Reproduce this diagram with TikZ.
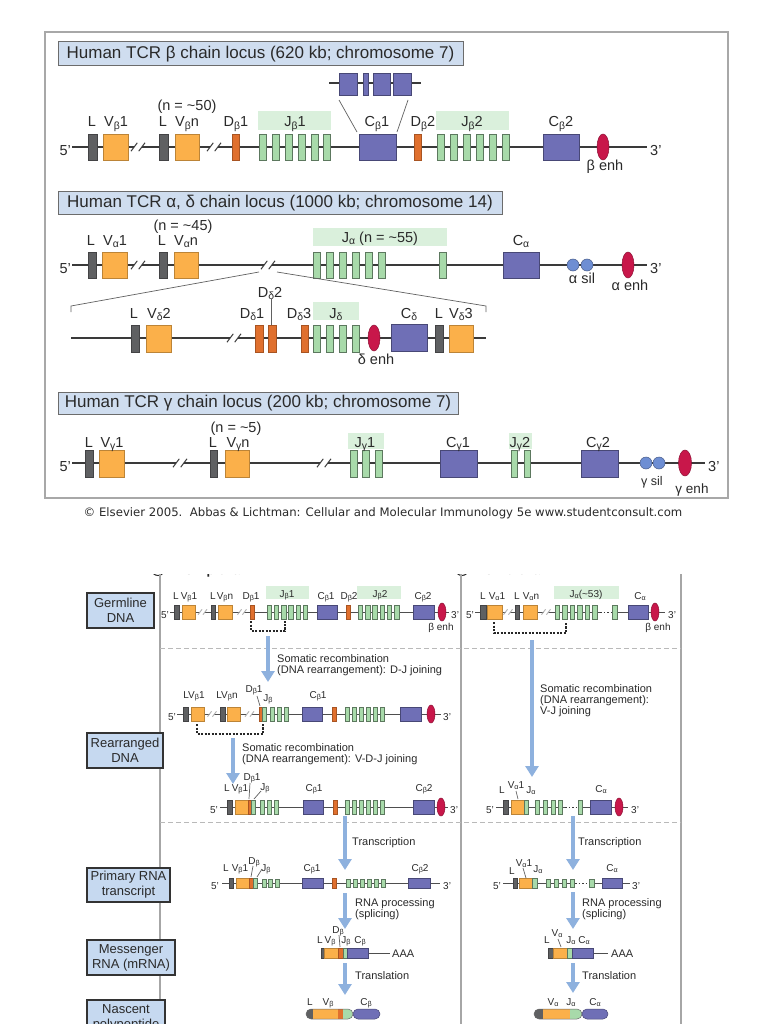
\documentclass[tikz,border=0pt]{standalone}
\usepackage{fontspec}
\setmainfont{Liberation Sans}
\newfontfamily\capfont{DejaVu Sans}
\usetikzlibrary{arrows.meta}
\definecolor{Lg}{HTML}{5F6062}
\definecolor{Vo}{HTML}{FBB04A}
\definecolor{Do}{HTML}{E0702E}
\definecolor{Jg}{HTML}{A8DAAA}
\definecolor{Jbgc}{HTML}{DAF0DC}
\definecolor{Cp}{HTML}{6F6FB6}
\definecolor{Enh}{HTML}{C8174A}
\definecolor{Sil}{HTML}{6E8ED3}
\definecolor{Tbox}{HTML}{CFDDEF}
\definecolor{Arr}{HTML}{8EB1DE}
\definecolor{Lbox}{HTML}{C6D9F0}
\definecolor{Dl}{HTML}{3A3A3A}
\definecolor{Frame}{HTML}{A8A8A8}
\definecolor{Txt}{HTML}{2A2A2A}
\newcommand\fs[1]{\fontsize{#1}{#1}\selectfont}
\newcommand\sbx[1]{\raisebox{-0.3ex}{\scalebox{0.72}{#1}}}
\newcommand\bx[5]{\draw[#1] (#2,#3) rectangle (#4,#5);}
\newcounter{nn}
\newcommand\lab[4][lab]{\stepcounter{nn}\node[#1] (n\arabic{nn}) at (#2,#3) {#4};}
% break mark: x, y, size, style
\newcommand\brk[4]{%
  \fill[white] (#1-#3*0.55,#2-2) rectangle (#1+#3*0.55,#2+2);
  \draw[#4] (#1-#3,#2+#3*0.6) -- (#1-#3*0.1,#2-#3*0.6) (#1+#3*0.1,#2+#3*0.6) -- (#1+#3,#2-#3*0.6);}
\begin{document}
\begin{tikzpicture}[x=1pt,y=-1pt,
  dna/.style={draw=Dl, line width=1.3pt},
  dnas/.style={draw=Dl!90, line width=1pt},
  Lseg/.style={fill=Lg, draw=Lg!70!black, line width=0.5pt},
  Vseg/.style={fill=Vo, draw=Vo!75!black, line width=0.5pt},
  Dseg/.style={fill=Do, draw=Do!75!black, line width=0.5pt},
  Jseg/.style={fill=Jg, draw=Jg!55!black, line width=0.5pt},
  Cseg/.style={fill=Cp, draw=Cp!65!black, line width=0.5pt},
  Jbg/.style={fill=Jbgc, draw=none},
  enh/.style={fill=Enh, draw=Enh!70!black, line width=0.5pt},
  sil/.style={fill=Sil, draw=Sil!65!black, line width=0.5pt},
  brkA/.style={draw=Dl, line width=1pt},
  brkB/.style={draw=gray!60, line width=0.9pt},
  thinl/.style={draw=Dl!80, line width=0.7pt},
  lab/.style={font=\fs{14.5}, text=Txt, inner sep=0pt, anchor=base},
  slab/.style={font=\fs{10}, text=Txt, inner sep=0pt, anchor=base},
  txt/.style={font=\fs{11}, text=Txt, inner sep=0pt, anchor=base west},
  tbox/.style={draw=gray!85!black, fill=Tbox, line width=1pt, font=\fs{17}, text=Txt, inner sep=0pt},
  lbox/.style={draw=black!80, fill=Lbox, line width=1.3pt, font=\fs{13}, text=Txt, align=center, inner sep=0pt},
  bigarrow/.style={draw=Arr, line width=4.5pt, -{Triangle[length=11pt,width=13pt]}},
  brack/.style={draw=black!85, line width=1.1pt, dash pattern=on 2.2pt off 1.3pt},
  dotl/.style={draw=Dl, line width=1pt, dash pattern=on 1.5pt off 2pt},
  sep/.style={draw=gray!70, line width=1.2pt},
  hsep/.style={draw=gray!55, line width=1pt, dash pattern=on 5pt off 3pt},
  outl/.style={draw=black!60, line width=0.5pt}
]
\useasboundingbox (0,0) rectangle (768,1024);
\clip (0,0) rectangle (768,1024);
\fill[white] (0,0) rectangle (768,1024);

% ================= TOP PANEL =================
\draw[Frame, line width=2pt] (45,32) rectangle (728,498);

% ---- beta locus ----
\node[tbox, minimum width=405pt, minimum height=24pt] (tb) at (260.5,54) {Human TCR β chain locus (620 kb; chromosome 7)};
\draw[dna] (72,147) -- (647,147);
\bx{Lseg}{88}{134}{97}{160}
\bx{Vseg}{103}{134}{128}{160}
\brk{138}{147}{7}{brkA}
\bx{Lseg}{159}{134}{168}{160}
\bx{Vseg}{175}{134}{199}{160}
\brk{214}{147}{7}{brkA}
\bx{Dseg}{232}{134}{239}{160}
\bx{Jbg}{258}{111}{331}{130}
\foreach \x in {259,272,285,298,311,323} {\bx{Jseg}{\x}{134}{\x+7}{160}}
\bx{Cseg}{359}{134}{396}{160}
\bx{Dseg}{414}{134}{421}{160}
\bx{Jbg}{436}{111}{509}{130}
\foreach \x in {437,450,463,476,489,502} {\bx{Jseg}{\x}{134}{\x+7}{160}}
\bx{Cseg}{543}{134}{579}{160}
\draw[enh] (603,147) ellipse [x radius=6pt, y radius=13pt];
% inset of C beta 1
\draw[dna] (329,83) -- (421,83);
\bx{Cseg}{339}{73}{357}{95}
\bx{Cseg}{363}{73}{368}{95}
\bx{Cseg}{373}{73}{390}{95}
\bx{Cseg}{393}{73}{411}{95}
\draw[thinl] (339,100) -- (357,132);
\draw[thinl] (408,100) -- (397,132);
% labels
\node[lab, anchor=east] (b5) at (71,151) {5'};
\node[lab, anchor=west] (b3) at (650,151) {3'};
\lab{92}{127}{L}
\lab{116}{127}{V\sbx{β}1}
\lab{187}{111}{(n = \textasciitilde50)}
\lab{163}{127}{L}
\lab{187}{127}{V\sbx{β}n}
\lab{236}{127}{D\sbx{β}1}
\lab{295}{127}{J\sbx{β}1}
\lab{377}{127}{C\sbx{β}1}
\lab{423}{127}{D\sbx{β}2}
\lab{472}{127}{J\sbx{β}2}
\lab{561}{127}{C\sbx{β}2}
\lab{605}{171}{β enh}

% ---- alpha/delta locus ----
\node[tbox, minimum width=444pt, minimum height=23pt] (ta) at (280,203.5) {Human TCR α, δ chain locus (1000 kb; chromosome 14)};
\draw[dna] (72,265) -- (647,265);
\bx{Lseg}{88}{252}{96}{278}
\bx{Vseg}{102}{252}{127}{278}
\brk{138}{265}{7}{brkA}
\bx{Lseg}{159}{252}{167}{278}
\bx{Vseg}{174}{252}{198}{278}
\brk{268}{265}{7}{brkA}
\bx{Jbg}{313}{228}{447}{246}
\foreach \x in {313,326,339,352,365,378} {\bx{Jseg}{\x}{252}{\x+7}{278}}
\bx{Jseg}{439}{252}{446}{278}
\bx{Cseg}{503}{252}{539}{278}
\draw[sil] (573,265) circle [radius=6pt];
\draw[sil] (587,265) circle [radius=6pt];
\draw[enh] (628,265) ellipse [x radius=6pt, y radius=13pt];
\node[lab, anchor=east] (a5) at (71,269) {5'};
\node[lab, anchor=west] (a3) at (650,269) {3'};
\lab{91}{245}{L}
\lab{115}{245}{V\sbx{α}1}
\lab{183}{230}{(n = \textasciitilde45)}
\lab{162}{245}{L}
\lab{186}{245}{V\sbx{α}n}
\lab{380}{242}{J\sbx{α} (n = \textasciitilde55)}
\lab{521}{245}{C\sbx{α}}
\lab{582}{283}{α sil}
\lab{630}{290}{α enh}
% expansion lines
\draw[thinl] (259,272) -- (71,306) -- (71,312);
\draw[thinl] (277,272) -- (486,306) -- (486,312);
% delta region
\draw[dna] (71,338) -- (486,338);
\bx{Lseg}{131}{325}{139}{352}
\bx{Vseg}{146}{325}{171}{352}
\brk{234}{338}{7}{brkA}
\bx{Dseg}{255}{325}{263}{352}
\bx{Dseg}{268}{325}{276}{352}
\bx{Dseg}{301}{325}{308}{352}
\bx{Jbg}{313}{302}{359}{320}
\foreach \x in {313,326,339,352} {\bx{Jseg}{\x}{325}{\x+7}{352}}
\draw[enh] (374,338) ellipse [x radius=6pt, y radius=13pt];
\bx{Cseg}{391}{324}{427}{351}
\bx{Lseg}{435}{325}{443}{352}
\bx{Vseg}{449}{325}{473}{352}
\draw[thinl] (271,299) -- (271,325);
\lab{134}{318}{L}
\lab{159}{318}{V\sbx{δ}2}
\lab{252}{318}{D\sbx{δ}1}
\lab{270}{297}{D\sbx{δ}2}
\lab{299}{318}{D\sbx{δ}3}
\lab{336}{318}{J\sbx{δ}}
\lab{409}{318}{C\sbx{δ}}
\lab{439}{318}{L}
\lab{461}{318}{V\sbx{δ}3}
\lab{376}{364}{δ enh}

% ---- gamma locus ----
\node[tbox, minimum width=400pt, minimum height=22pt] (tg) at (258,403) {Human TCR γ chain locus (200 kb; chromosome 7)};
\draw[dna] (72,463) -- (705,463);
\bx{Lseg}{85}{450}{93}{477}
\bx{Vseg}{99}{450}{124}{477}
\brk{180}{463}{7}{brkA}
\bx{Lseg}{210}{450}{217}{477}
\bx{Vseg}{225}{450}{249}{477}
\brk{324}{463}{7}{brkA}
\bx{Jbg}{348}{433}{384}{449}
\foreach \x in {350,362,375} {\bx{Jseg}{\x}{450}{\x+7}{477}}
\bx{Cseg}{440}{450}{477}{477}
\bx{Jbg}{509}{433}{532}{449}
\foreach \x in {511,524} {\bx{Jseg}{\x}{450}{\x+6}{477}}
\bx{Cseg}{581}{450}{618}{477}
\draw[sil] (646,463) circle [radius=6pt];
\draw[sil] (659,463) circle [radius=6pt];
\draw[enh] (685,463) ellipse [x radius=6.5pt, y radius=13pt];
\node[lab, anchor=east] (g5) at (71,467) {5'};
\node[lab, anchor=west] (g3) at (708,467) {3'};
\lab{89}{447}{L}
\lab{112}{447}{V\sbx{γ}1}
\lab{236}{432}{(n = \textasciitilde5)}
\lab{213}{447}{L}
\lab{238}{447}{V\sbx{γ}n}
\lab{365}{447}{J\sbx{γ}1}
\lab{458}{447}{C\sbx{γ}1}
\lab{520}{447}{J\sbx{γ}2}
\lab{598}{447}{C\sbx{γ}2}
\lab[lab, font=\fs{12.5}]{652}{485}{γ sil}
\lab[lab, font=\fs{13.5}]{692}{493}{γ enh}

% caption
\node[font=\capfont\fs{11.7}, text=Txt, inner sep=0pt, anchor=base] (cap) at (383,516) {© Elsevier 2005.\ \ Abbas \& Lichtman: Cellular and Molecular Immunology 5e www.studentconsult.com};

% ================= LOWER PANEL =================
\begin{scope}
\clip (0,574) rectangle (768,1024);
\draw[Txt, line width=1pt] (158,569) circle [radius=6.5pt];
\draw[Txt, line width=1pt] (462,569) circle [radius=6.5pt];
\node[font=\bfseries\fs{13}, text=Txt, inner sep=0pt, anchor=base west] (hb) at (176,574) {TCR β chain};
\node[font=\bfseries\fs{13}, text=Txt, inner sep=0pt, anchor=base west] (ha) at (476,574) {TCR α chain};
\end{scope}
\draw[sep] (160,574) -- (160,1024);
\draw[sep] (461,574) -- (461,1024);
\draw[sep] (681,574) -- (681,1024);
\draw[hsep] (160,648) -- (681,648);
\draw[hsep] (160,822) -- (681,822);

% left stage labels
\node[lbox, minimum width=67pt, minimum height=35pt] (germ) at (120.5,610.5) {Germline\\[2pt]DNA};
\node[lbox, minimum width=76pt, minimum height=35pt] (rearr) at (125,750.5) {Rearranged\\[2pt]DNA};
\node[lbox, minimum width=83pt, minimum height=34pt] (prim) at (128.5,885) {Primary RNA\\[2pt]transcript};
\node[lbox, minimum width=88pt, minimum height=35pt] (mrna) at (131,957.5) {Messenger\\[2pt]RNA (mRNA)};
\node[lbox, minimum width=78pt, minimum height=35pt] (nasc) at (126,1017.5) {Nascent\\[2pt]polypeptide};

% ---------- beta column ----------
% row 1 germline
\draw[dnas] (170,612) -- (449,612);
\bx{Lseg}{174}{605}{179}{619}
\bx{Vseg}{182}{605}{195}{619}
\brk{202.5}{612}{4.5}{brkB}
\bx{Lseg}{211}{605}{215}{619}
\bx{Vseg}{218}{605}{232}{619}
\brk{242}{612}{4.5}{brkB}
\bx{Dseg}{250}{605}{254}{619}
\bx{Jbg}{266}{586}{309}{599}
\foreach \x in {267,274.2,281.4,288.6,295.8,303} {\bx{Jseg}{\x}{605}{\x+4.5}{619}}
\bx{Cseg}{317}{605}{337}{619}
\bx{Dseg}{346}{605}{350}{619}
\bx{Jbg}{357}{586}{401}{599}
\foreach \x in {358,365.3,372.6,379.9,387.2,394.5} {\bx{Jseg}{\x}{605}{\x+4.5}{619}}
\bx{Cseg}{413}{605}{434}{619}
\draw[enh] (442,612) ellipse [x radius=4pt, y radius=9pt];
\node[slab, anchor=east] (r1b5) at (169,615) {5'};
\node[slab, anchor=west] (r1b3) at (451,615) {3'};
\lab[slab]{176}{599}{L}
\lab[slab]{189}{599}{V\sbx{β}1}
\lab[slab]{213}{599}{L}
\lab[slab]{225}{599}{V\sbx{β}n}
\lab[slab]{251}{599}{D\sbx{β}1}
\lab[slab]{287}{597}{J\sbx{β}1}
\lab[slab]{326}{599}{C\sbx{β}1}
\lab[slab]{349}{599}{D\sbx{β}2}
\lab[slab]{380}{597}{J\sbx{β}2}
\lab[slab]{423}{599}{C\sbx{β}2}
\lab[slab]{441}{630}{β enh}
\draw[brack] (251,621) -- (251,631) -- (285,631) -- (285,621);
% arrow D-J
\coordinate (b1s) at (268,636);
\coordinate (b1e) at (268,682);
\draw[bigarrow] (b1s) -- (b1e);
\node[txt] (t1) at (277,662) {Somatic recombination};
\node[txt] (t2) at (277,673) {(DNA rearrangement): D-J joining};

% row 2
\draw[dnas] (177,714) -- (441,714);
\bx{Lseg}{183}{707}{188}{721}
\bx{Vseg}{191}{707}{204}{721}
\brk{212}{714}{4.5}{brkB}
\bx{Lseg}{220}{707}{225}{721}
\bx{Vseg}{227}{707}{240}{721}
\brk{249.5}{714}{4.5}{brkB}
\bx{Dseg}{259}{707}{262.5}{721}
\bx{Jseg}{262.5}{707}{266.5}{721}
\foreach \x in {270,277,284} {\bx{Jseg}{\x}{707}{\x+4.5}{721}}
\bx{Cseg}{302}{707}{322}{721}
\bx{Dseg}{332}{707}{336}{721}
\foreach \x in {345,352,359,366,373,380} {\bx{Jseg}{\x}{707}{\x+4.5}{721}}
\bx{Cseg}{400}{707}{421}{721}
\draw[enh] (431,714) ellipse [x radius=4pt, y radius=9pt];
\node[slab, anchor=east] (r2b5) at (176,717) {5'};
\node[slab, anchor=west] (r2b3) at (443,717) {3'};
\lab[slab]{194}{698}{LV\sbx{β}1}
\lab[slab]{227}{698}{LV\sbx{β}n}
\lab[slab]{254}{692}{D\sbx{β}1}
\lab[slab]{268}{701}{J\sbx{β}}
\lab[slab]{318}{698}{C\sbx{β}1}
\draw[thinl] (257,696) -- (260,706);
\draw[brack] (197,724) -- (197,734) -- (263,734) -- (263,724);
% arrow V-D-J
\coordinate (b2s) at (233,738);
\coordinate (b2e) at (233,784);
\draw[bigarrow] (b2s) -- (b2e);
\node[txt] (t3) at (242,751) {Somatic recombination};
\node[txt] (t4) at (242,762) {(DNA rearrangement): V-D-J joining};

% row 3
\draw[dnas] (220,807) -- (448,807);
\bx{Lseg}{227}{800}{232}{814}
\bx{Vseg}{235}{800}{248}{814}
\bx{Dseg}{248}{800}{251.5}{814}
\bx{Jseg}{251.5}{800}{255.5}{814}
\foreach \x in {260,267,274} {\bx{Jseg}{\x}{800}{\x+4.5}{814}}
\bx{Cseg}{303}{800}{323}{814}
\bx{Dseg}{333}{800}{337}{814}
\foreach \x in {345,352,359,366,373,380} {\bx{Jseg}{\x}{800}{\x+4.5}{814}}
\bx{Cseg}{413}{800}{434}{814}
\draw[enh] (441,807) ellipse [x radius=4pt, y radius=9pt];
\node[slab, anchor=east] (r3b5) at (218,810) {5'};
\node[slab, anchor=west] (r3b3) at (450,810) {3'};
\lab[slab]{227}{791}{L}
\lab[slab]{240}{791}{V\sbx{β}1}
\lab[slab]{252}{780}{D\sbx{β}1}
\lab[slab]{265}{790}{J\sbx{β}}
\lab[slab]{314}{791}{C\sbx{β}1}
\lab[slab]{424}{791}{C\sbx{β}2}
\draw[thinl] (250,783) -- (249,799);
\draw[thinl] (261,791) -- (254,799);
% transcription
\coordinate (b3s) at (345,816);
\coordinate (b3e) at (345,870);
\draw[bigarrow] (b3s) -- (b3e);
\node[txt] (t5) at (352,845) {Transcription};

% row 4 primary transcript
\draw[dnas] (222,883) -- (440,883);
\bx{Lseg}{229}{878}{233}{888}
\bx{Vseg}{236}{878}{249}{888}
\bx{Dseg}{249}{878}{253}{888}
\bx{Jseg}{253}{878}{257}{888}
\foreach \x in {262,268.5,275} {\bx{Jseg}{\x}{879}{\x+4}{887}}
\bx{Cseg}{302}{878}{323}{888}
\bx{Dseg}{332}{878}{336}{888}
\foreach \x in {346,353,360,367,374,381} {\bx{Jseg}{\x}{879}{\x+4}{887}}
\bx{Cseg}{408}{878}{430}{888}
\node[slab, anchor=east] (r4b5) at (219,886) {5'};
\node[slab, anchor=west] (r4b3) at (443,886) {3'};
\lab[slab]{226}{871}{L}
\lab[slab]{240}{871}{V\sbx{β}1}
\lab[slab]{254}{864}{D\sbx{β}}
\lab[slab]{266}{871}{J\sbx{β}}
\lab[slab]{312}{871}{C\sbx{β}1}
\lab[slab]{420}{871}{C\sbx{β}2}
\draw[thinl] (253,866) -- (251,877);
\draw[thinl] (262,869) -- (257,877);
% RNA processing
\coordinate (b4s) at (345,893);
\coordinate (b4e) at (345,929);
\draw[bigarrow] (b4s) -- (b4e);
\node[txt] (t6) at (355,906) {RNA processing};
\node[txt] (t7) at (355,917) {(splicing)};

% row 5 mRNA
\draw[dnas] (368,953) -- (390,953);
\bx{Lseg}{321}{948}{324}{958}
\bx{Vseg}{324}{948}{338}{958}
\bx{Dseg}{338}{948}{343}{958}
\bx{Jseg}{343}{948}{347}{958}
\bx{Cseg}{347}{948}{368}{958}
\node[txt] (aaa1) at (392,957) {AAA};
\lab[slab]{320}{943}{L}
\lab[slab]{330}{943}{V\sbx{β}}
\lab[slab]{338}{933}{D\sbx{β}}
\lab[slab]{346}{943}{J\sbx{β}}
\lab[slab]{360}{943}{C\sbx{β}}
\draw[thinl] (339,935) -- (340,947);
% translation
\coordinate (b5s) at (345,963);
\coordinate (b5e) at (345,995);
\draw[bigarrow] (b5s) -- (b5e);
\node[txt] (t8) at (355,979) {Translation};

% row 6 polypeptide
\begin{scope}
\clip[rounded corners=5pt] (306,1009) rectangle (353,1019);
\fill[Lg] (306,1009) rectangle (313,1019);
\fill[Vo] (313,1009) rectangle (338,1019);
\fill[Do] (338,1009) rectangle (343,1019);
\fill[Jg] (343,1009) rectangle (353,1019);
\end{scope}
\draw[outl, rounded corners=5pt] (306,1009) rectangle (353,1019);
\draw[Cseg, rounded corners=5pt] (353,1009) rectangle (380,1019);
\lab[slab]{310}{1005}{L}
\lab[slab]{328}{1005}{V\sbx{β}}
\lab[slab]{366}{1005}{C\sbx{β}}

% ---------- alpha column ----------
% row 1
\draw[dnas] (475,612) -- (600,612);
\draw[dotl] (600,612) -- (612,612);
\draw[dnas] (612,612) -- (665,612);
\bx{Lseg}{480}{605}{486}{619}
\bx{Vseg}{487}{605}{502}{619}
\brk{508}{612}{4.5}{brkB}
\bx{Lseg}{515}{605}{519}{619}
\bx{Vseg}{523}{605}{537}{619}
\brk{546}{612}{4.5}{brkB}
\bx{Jbg}{554}{586}{619}{599}
\foreach \x in {555,562.5,570,577.5,585,592.5} {\bx{Jseg}{\x}{605}{\x+4.5}{619}}
\bx{Jseg}{612}{605}{617}{619}
\bx{Cseg}{628}{605}{648}{619}
\draw[enh] (655,612) ellipse [x radius=4pt, y radius=9pt];
\node[slab, anchor=east] (r1a5) at (474,615) {5'};
\node[slab, anchor=west] (r1a3) at (668,615) {3'};
\lab[slab]{483}{599}{L}
\lab[slab]{497}{599}{V\sbx{α}1}
\lab[slab]{517}{599}{L}
\lab[slab]{531}{599}{V\sbx{α}n}
\lab[slab]{586}{597}{J\sbx{α}(\textasciitilde53)}
\lab[slab]{640}{599}{C\sbx{α}}
\lab[slab]{658}{630}{β enh}
\draw[brack] (494,622) -- (494,633) -- (566,633) -- (566,622);
% arrow V-J
\coordinate (a1s) at (532,640);
\coordinate (a1e) at (532,777);
\draw[bigarrow] (a1s) -- (a1e);
\node[txt] (t9) at (540,692) {Somatic recombination};
\node[txt] (t10) at (540,703) {(DNA rearrangement):};
\node[txt] (t11) at (540,714) {V-J joining};

% row 3
\draw[dnas] (496,807) -- (565,807);
\draw[dotl] (565,807) -- (578,807);
\draw[dnas] (578,807) -- (628,807);
\bx{Lseg}{503}{800}{508}{814}
\bx{Vseg}{511}{800}{524}{814}
\bx{Jseg}{524}{800}{528}{814}
\foreach \x in {535,543,551,558} {\bx{Jseg}{\x}{800}{\x+4}{814}}
\bx{Jseg}{578}{800}{582}{814}
\bx{Cseg}{590}{800}{611}{814}
\draw[enh] (619,807) ellipse [x radius=4pt, y radius=9pt];
\node[slab, anchor=east] (r3a5) at (494,810) {5'};
\node[slab, anchor=west] (r3a3) at (631,810) {3'};
\lab[slab]{502}{793}{L}
\lab[slab]{516}{788}{V\sbx{α}1}
\lab[slab]{531}{793}{J\sbx{α}}
\lab[slab]{601}{792}{C\sbx{α}}
\draw[thinl] (516,791) -- (518,799);
% transcription
\coordinate (a3s) at (573,816);
\coordinate (a3e) at (573,870);
\draw[bigarrow] (a3s) -- (a3e);
\node[txt] (t12) at (578,845) {Transcription};

% row 4
\draw[dnas] (503,883) -- (575,883);
\draw[dotl] (575,883) -- (589,883);
\draw[dnas] (589,883) -- (630,883);
\bx{Lseg}{513}{878}{517}{888}
\bx{Vseg}{519}{878}{532}{888}
\bx{Jseg}{532}{878}{537}{888}
\foreach \x in {546,554,562,570} {\bx{Jseg}{\x}{879}{\x+4}{887}}
\bx{Jseg}{589}{879}{594}{887}
\bx{Cseg}{602}{878}{622}{888}
\node[slab, anchor=east] (r4a5) at (501,886) {5'};
\node[slab, anchor=west] (r4a3) at (632,886) {3'};
\lab[slab]{512}{874}{L}
\lab[slab]{524}{866}{V\sbx{α}1}
\lab[slab]{538}{872}{J\sbx{α}}
\lab[slab]{612}{871}{C\sbx{α}}
\draw[thinl] (523,868) -- (526,878);
% RNA processing
\coordinate (a4s) at (573,892);
\coordinate (a4e) at (573,929);
\draw[bigarrow] (a4s) -- (a4e);
\node[txt] (t13) at (582,906) {RNA processing};
\node[txt] (t14) at (582,917) {(splicing)};

% row 5 mRNA
\draw[dnas] (593,953) -- (608,953);
\bx{Lseg}{548}{948}{553}{958}
\bx{Vseg}{553}{948}{567}{958}
\bx{Jseg}{567}{948}{572}{958}
\bx{Cseg}{572}{948}{593}{958}
\node[txt] (aaa2) at (611,957) {AAA};
\lab[slab]{547}{943}{L}
\lab[slab]{557}{936}{V\sbx{α}}
\lab[slab]{571}{943}{J\sbx{α}}
\lab[slab]{584}{943}{C\sbx{α}}
\draw[thinl] (558,939) -- (561,947);
% translation
\coordinate (a5s) at (573,963);
\coordinate (a5e) at (573,993);
\draw[bigarrow] (a5s) -- (a5e);
\node[txt] (t15) at (582,979) {Translation};

% row 6 polypeptide
\begin{scope}
\clip[rounded corners=5pt] (534,1009) rectangle (582,1019);
\fill[Lg] (534,1009) rectangle (543,1019);
\fill[Vo] (543,1009) rectangle (570,1019);
\fill[Jg] (570,1009) rectangle (582,1019);
\end{scope}
\draw[outl, rounded corners=5pt] (534,1009) rectangle (582,1019);
\draw[Cseg, rounded corners=5pt] (582,1009) rectangle (608,1019);
\lab[slab]{553}{1005}{V\sbx{α}}
\lab[slab]{571}{1005}{J\sbx{α}}
\lab[slab]{595}{1005}{C\sbx{α}}
\end{tikzpicture}
\end{document}
